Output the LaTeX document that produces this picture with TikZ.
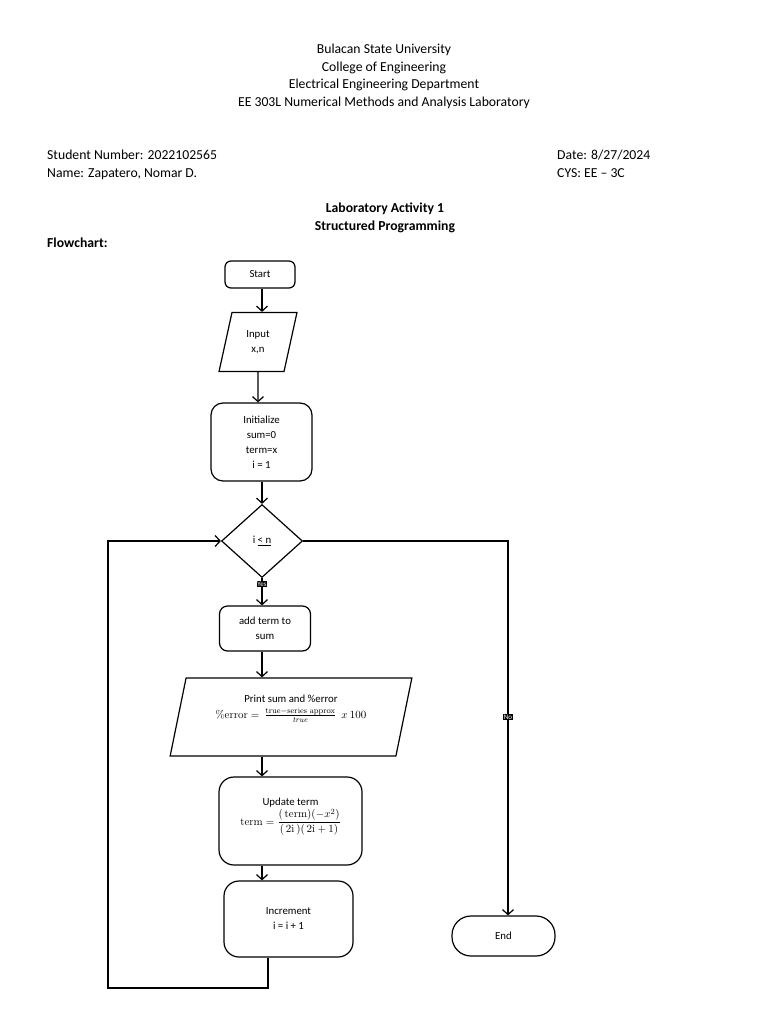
\documentclass[tikz,border=0pt]{standalone}
\usepackage{amsmath}
\usepackage[no-math]{fontspec}
\setmainfont{Carlito}
\usetikzlibrary{shapes.geometric,arrows.meta,calc}
\begin{document}
\begin{tikzpicture}[x=1pt,y=-1pt,
  hdr/.style={font=\fontsize{13.7}{17}\selectfont, anchor=mid, inner sep=0pt},
  hdrl/.style={hdr, anchor=mid west},
  box/.style={draw, line width=1.2pt, align=center, font=\fontsize{10.8}{15}\selectfont, inner sep=1pt},
  para/.style={box, trapezium, trapezium left angle=76, trapezium right angle=104, trapezium stretches=true},
  arr/.style={line width=1.2pt, -{Straight Barb[length=5pt,width=11pt,line width=1.2pt]}},
  lbl/.style={fill=black, text=white, font=\fontsize{7}{7}\selectfont, inner sep=0.8pt}
]
\useasboundingbox[fill=white] (0,0) rectangle (768,1024);
% header
\node[hdr] (h1) at (384,51) {Bulacan State University};
\node[hdr] (h2) at (384,69) {College of Engineering};
\node[hdr] (h3) at (384,86) {Electrical Engineering Department};
\node[hdr] (h4) at (384,104) {EE 303L Numerical Methods and Analysis Laboratory};
\node[hdrl] (sn) at (47,157) {Student Number: 2022102565};
\node[hdrl] (nm) at (47,175) {Name: Zapatero, Nomar D.};
\node[hdrl] (dt) at (557,157) {Date: 8/27/2024};
\node[hdrl] (cys) at (557,175) {CYS: EE -- 3C};
\node[hdr,font=\fontsize{13.7}{17}\selectfont\bfseries] (t1) at (385,210) {Laboratory Activity 1};
\node[hdr,font=\fontsize{13.7}{17}\selectfont\bfseries] (t2) at (385,228) {Structured Programming};
\node[hdrl,font=\fontsize{13.7}{17}\selectfont\bfseries] (fc) at (47,245) {Flowchart:};
% flowchart nodes
\node[box, rounded corners=6pt, minimum width=70pt, minimum height=27pt] (start) at (260,274.5) {Start};
\node[para, minimum width=78pt, minimum height=59pt] (input) at (258,342) {Input\\x,n};
\node[box, rounded corners=12pt, minimum width=101pt, minimum height=78pt] (init) at (261.5,442) {Initialize\\sum=0\\term=x\\i = 1};
\node[box, diamond, minimum width=81pt, minimum height=73pt, inner sep=0pt] (dia) at (262,541) {i \underline{< n}};
\node[box, rounded corners=8pt, minimum width=91pt, minimum height=45pt] (add) at (265,628.5) {add term to\\sum};
\node[para, minimum width=242pt, minimum height=78pt] (print) at (291,717) {Print sum and \%error\\[1pt]$\%\mathrm{error} = \,\frac{\mathrm{true{-}series\ approx}}{\mathit{true}}\;\, x\ 100$\\[6pt]};
\node[box, rounded corners=15pt, minimum width=143pt, minimum height=88pt] (upd) at (290.5,821) {Update term\\[1pt]$\mathrm{term} = \dfrac{(\,\mathrm{term})(-x^2)}{(\,2\mathrm{i}\,)(\,2\mathrm{i} + 1)}$\\[4pt]};
\node[box, rounded corners=15pt, minimum width=129pt, minimum height=76pt] (inc) at (288.5,919) {Increment\\i = i + 1};
\node[box, rounded corners=19pt, minimum width=103pt, minimum height=40pt] (end) at (503.5,936) {End};
% connectors
\coordinate (loopA) at (268,988);
\coordinate (loopB) at (108,988);
\draw[arr] (start.south -| dia) -- (input.north -| dia);
\draw[arr] (input.south) -- (init.north -| input);
\draw[arr] (init.south -| dia) -- (dia.north);
\draw[arr] (dia.south) -- node[lbl, pos=0.22] {Yes} (add.north -| dia);
\draw[arr] (add.south -| dia) -- (print.north -| dia);
\draw[arr] (print.south -| dia) -- (upd.north -| dia);
\draw[arr] (upd.south -| dia) -- (inc.north -| dia);
\draw[arr] (dia.east) -| node[lbl, pos=0.735] {No} (end.north -| 508,0);
\draw[arr] (inc.south -| loopA) -- (loopA) -- (loopB) |- (dia.west);
\end{tikzpicture}
\end{document}
